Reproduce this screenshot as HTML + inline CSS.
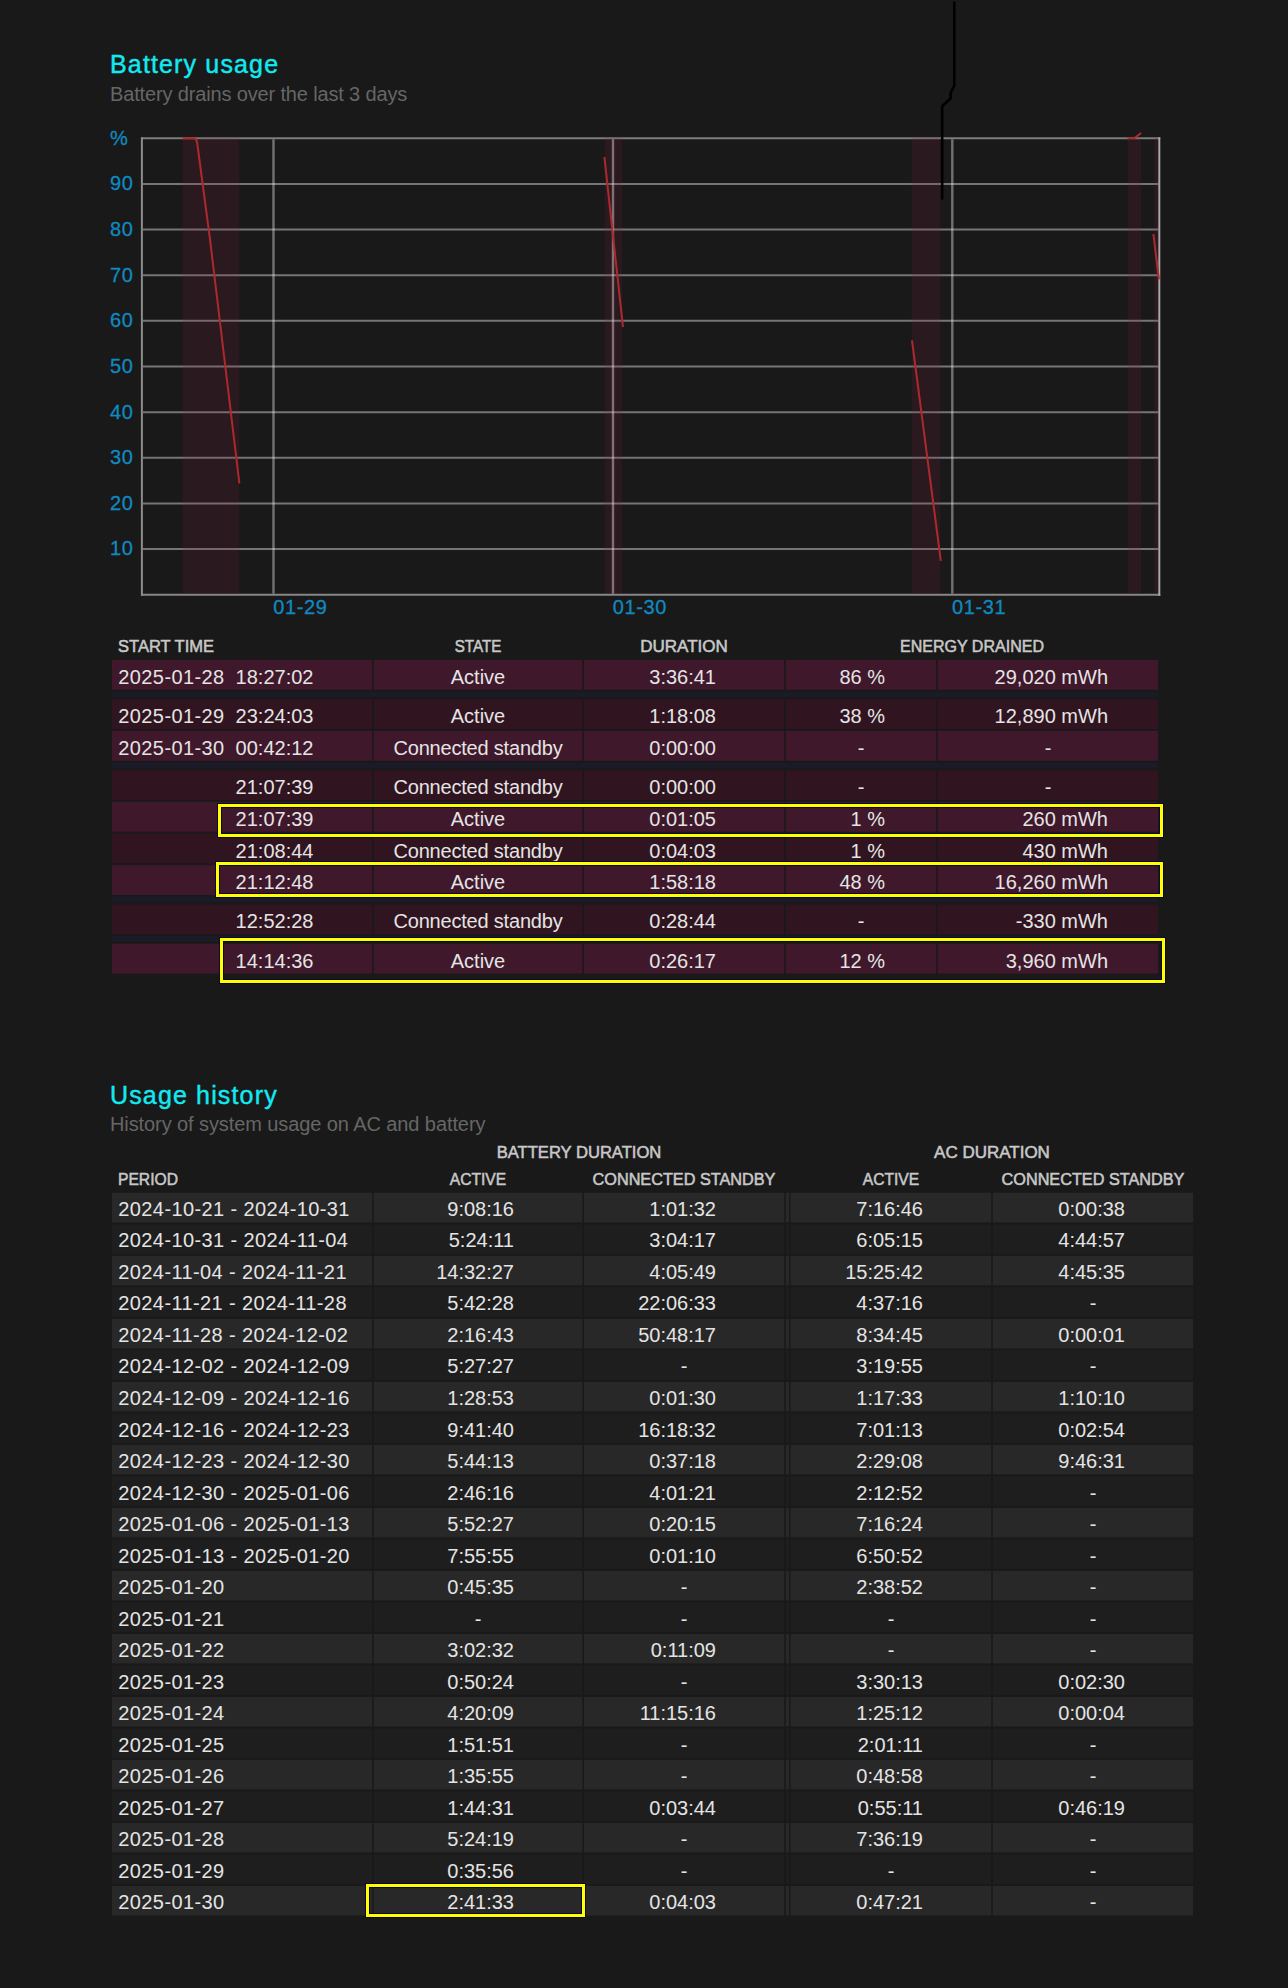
<!DOCTYPE html>
<html><head><meta charset="utf-8"><title>Battery report</title>
<style>
html,body{margin:0;padding:0;}
body{width:1288px;height:1988px;background:#191919;position:relative;overflow:hidden;font-family:"Liberation Sans", Arial, sans-serif;}
.t{position:absolute;white-space:pre;}
.h2{letter-spacing:1.15px;-webkit-text-stroke:0.4px currentColor;}
.sub{letter-spacing:-0.15px;}
.sub2{letter-spacing:-0.09px;}
.th{-webkit-text-stroke:0.55px currentColor;}
.td{letter-spacing:0;}
.dt{letter-spacing:0.4px;}
.cs{letter-spacing:-0.2px;}
.ax{letter-spacing:0.6px;-webkit-text-stroke:0.3px currentColor;}
.yb{position:absolute;border:3px solid #ffff00;box-shadow:0 0 0 1px #0a0a26, inset 0 0 0 1px #0a0a26;}
</style></head>
<body>
<svg width="1288" height="1988" viewBox="0 0 1288 1988" style="position:absolute;left:0;top:0"><rect x="112.00" y="659.90" width="260.25" height="29.90" fill="#3f182b"/><rect x="373.75" y="659.90" width="208.70" height="29.90" fill="#3f182b"/><rect x="583.95" y="659.90" width="200.30" height="29.90" fill="#3f182b"/><rect x="785.75" y="659.90" width="150.50" height="29.90" fill="#3f182b"/><rect x="937.75" y="659.90" width="220.25" height="29.90" fill="#3f182b"/><rect x="112.00" y="691.40" width="1046.00" height="6.20" fill="#1b1a27"/><rect x="112.00" y="699.20" width="260.25" height="29.90" fill="#30141f"/><rect x="373.75" y="699.20" width="208.70" height="29.90" fill="#30141f"/><rect x="583.95" y="699.20" width="200.30" height="29.90" fill="#30141f"/><rect x="785.75" y="699.20" width="150.50" height="29.90" fill="#30141f"/><rect x="937.75" y="699.20" width="220.25" height="29.90" fill="#30141f"/><rect x="112.00" y="730.85" width="260.25" height="29.90" fill="#3f182b"/><rect x="373.75" y="730.85" width="208.70" height="29.90" fill="#3f182b"/><rect x="583.95" y="730.85" width="200.30" height="29.90" fill="#3f182b"/><rect x="785.75" y="730.85" width="150.50" height="29.90" fill="#3f182b"/><rect x="937.75" y="730.85" width="220.25" height="29.90" fill="#3f182b"/><rect x="112.00" y="762.35" width="1046.00" height="6.20" fill="#1b1a27"/><rect x="112.00" y="770.15" width="260.25" height="29.90" fill="#30141f"/><rect x="373.75" y="770.15" width="208.70" height="29.90" fill="#30141f"/><rect x="583.95" y="770.15" width="200.30" height="29.90" fill="#30141f"/><rect x="785.75" y="770.15" width="150.50" height="29.90" fill="#30141f"/><rect x="937.75" y="770.15" width="220.25" height="29.90" fill="#30141f"/><rect x="112.00" y="801.80" width="260.25" height="29.90" fill="#3f182b"/><rect x="373.75" y="801.80" width="208.70" height="29.90" fill="#3f182b"/><rect x="583.95" y="801.80" width="200.30" height="29.90" fill="#3f182b"/><rect x="785.75" y="801.80" width="150.50" height="29.90" fill="#3f182b"/><rect x="937.75" y="801.80" width="220.25" height="29.90" fill="#3f182b"/><rect x="112.00" y="833.45" width="260.25" height="29.90" fill="#30141f"/><rect x="373.75" y="833.45" width="208.70" height="29.90" fill="#30141f"/><rect x="583.95" y="833.45" width="200.30" height="29.90" fill="#30141f"/><rect x="785.75" y="833.45" width="150.50" height="29.90" fill="#30141f"/><rect x="937.75" y="833.45" width="220.25" height="29.90" fill="#30141f"/><rect x="112.00" y="865.10" width="260.25" height="29.90" fill="#3f182b"/><rect x="373.75" y="865.10" width="208.70" height="29.90" fill="#3f182b"/><rect x="583.95" y="865.10" width="200.30" height="29.90" fill="#3f182b"/><rect x="785.75" y="865.10" width="150.50" height="29.90" fill="#3f182b"/><rect x="937.75" y="865.10" width="220.25" height="29.90" fill="#3f182b"/><rect x="112.00" y="896.60" width="1046.00" height="6.20" fill="#1b1a27"/><rect x="112.00" y="904.40" width="260.25" height="29.90" fill="#30141f"/><rect x="373.75" y="904.40" width="208.70" height="29.90" fill="#30141f"/><rect x="583.95" y="904.40" width="200.30" height="29.90" fill="#30141f"/><rect x="785.75" y="904.40" width="150.50" height="29.90" fill="#30141f"/><rect x="937.75" y="904.40" width="220.25" height="29.90" fill="#30141f"/><rect x="112.00" y="935.90" width="1046.00" height="6.20" fill="#1b1a27"/><rect x="112.00" y="943.70" width="260.25" height="29.90" fill="#3f182b"/><rect x="373.75" y="943.70" width="208.70" height="29.90" fill="#3f182b"/><rect x="583.95" y="943.70" width="200.30" height="29.90" fill="#3f182b"/><rect x="785.75" y="943.70" width="150.50" height="29.90" fill="#3f182b"/><rect x="937.75" y="943.70" width="220.25" height="29.90" fill="#3f182b"/><rect x="112.00" y="1192.80" width="260.25" height="29.60" fill="#282828"/><rect x="373.75" y="1192.80" width="208.70" height="29.60" fill="#282828"/><rect x="583.95" y="1192.80" width="200.30" height="29.60" fill="#282828"/><rect x="785.75" y="1192.80" width="3.40" height="29.60" fill="#282828"/><rect x="790.65" y="1192.80" width="200.60" height="29.60" fill="#282828"/><rect x="992.75" y="1192.80" width="200.35" height="29.60" fill="#282828"/><rect x="112.00" y="1224.31" width="260.25" height="29.60" fill="#1e1e1e"/><rect x="373.75" y="1224.31" width="208.70" height="29.60" fill="#1e1e1e"/><rect x="583.95" y="1224.31" width="200.30" height="29.60" fill="#1e1e1e"/><rect x="785.75" y="1224.31" width="3.40" height="29.60" fill="#1e1e1e"/><rect x="790.65" y="1224.31" width="200.60" height="29.60" fill="#1e1e1e"/><rect x="992.75" y="1224.31" width="200.35" height="29.60" fill="#1e1e1e"/><rect x="112.00" y="1255.81" width="260.25" height="29.60" fill="#282828"/><rect x="373.75" y="1255.81" width="208.70" height="29.60" fill="#282828"/><rect x="583.95" y="1255.81" width="200.30" height="29.60" fill="#282828"/><rect x="785.75" y="1255.81" width="3.40" height="29.60" fill="#282828"/><rect x="790.65" y="1255.81" width="200.60" height="29.60" fill="#282828"/><rect x="992.75" y="1255.81" width="200.35" height="29.60" fill="#282828"/><rect x="112.00" y="1287.32" width="260.25" height="29.60" fill="#1e1e1e"/><rect x="373.75" y="1287.32" width="208.70" height="29.60" fill="#1e1e1e"/><rect x="583.95" y="1287.32" width="200.30" height="29.60" fill="#1e1e1e"/><rect x="785.75" y="1287.32" width="3.40" height="29.60" fill="#1e1e1e"/><rect x="790.65" y="1287.32" width="200.60" height="29.60" fill="#1e1e1e"/><rect x="992.75" y="1287.32" width="200.35" height="29.60" fill="#1e1e1e"/><rect x="112.00" y="1318.82" width="260.25" height="29.60" fill="#282828"/><rect x="373.75" y="1318.82" width="208.70" height="29.60" fill="#282828"/><rect x="583.95" y="1318.82" width="200.30" height="29.60" fill="#282828"/><rect x="785.75" y="1318.82" width="3.40" height="29.60" fill="#282828"/><rect x="790.65" y="1318.82" width="200.60" height="29.60" fill="#282828"/><rect x="992.75" y="1318.82" width="200.35" height="29.60" fill="#282828"/><rect x="112.00" y="1350.33" width="260.25" height="29.60" fill="#1e1e1e"/><rect x="373.75" y="1350.33" width="208.70" height="29.60" fill="#1e1e1e"/><rect x="583.95" y="1350.33" width="200.30" height="29.60" fill="#1e1e1e"/><rect x="785.75" y="1350.33" width="3.40" height="29.60" fill="#1e1e1e"/><rect x="790.65" y="1350.33" width="200.60" height="29.60" fill="#1e1e1e"/><rect x="992.75" y="1350.33" width="200.35" height="29.60" fill="#1e1e1e"/><rect x="112.00" y="1381.83" width="260.25" height="29.60" fill="#282828"/><rect x="373.75" y="1381.83" width="208.70" height="29.60" fill="#282828"/><rect x="583.95" y="1381.83" width="200.30" height="29.60" fill="#282828"/><rect x="785.75" y="1381.83" width="3.40" height="29.60" fill="#282828"/><rect x="790.65" y="1381.83" width="200.60" height="29.60" fill="#282828"/><rect x="992.75" y="1381.83" width="200.35" height="29.60" fill="#282828"/><rect x="112.00" y="1413.34" width="260.25" height="29.60" fill="#1e1e1e"/><rect x="373.75" y="1413.34" width="208.70" height="29.60" fill="#1e1e1e"/><rect x="583.95" y="1413.34" width="200.30" height="29.60" fill="#1e1e1e"/><rect x="785.75" y="1413.34" width="3.40" height="29.60" fill="#1e1e1e"/><rect x="790.65" y="1413.34" width="200.60" height="29.60" fill="#1e1e1e"/><rect x="992.75" y="1413.34" width="200.35" height="29.60" fill="#1e1e1e"/><rect x="112.00" y="1444.84" width="260.25" height="29.60" fill="#282828"/><rect x="373.75" y="1444.84" width="208.70" height="29.60" fill="#282828"/><rect x="583.95" y="1444.84" width="200.30" height="29.60" fill="#282828"/><rect x="785.75" y="1444.84" width="3.40" height="29.60" fill="#282828"/><rect x="790.65" y="1444.84" width="200.60" height="29.60" fill="#282828"/><rect x="992.75" y="1444.84" width="200.35" height="29.60" fill="#282828"/><rect x="112.00" y="1476.35" width="260.25" height="29.60" fill="#1e1e1e"/><rect x="373.75" y="1476.35" width="208.70" height="29.60" fill="#1e1e1e"/><rect x="583.95" y="1476.35" width="200.30" height="29.60" fill="#1e1e1e"/><rect x="785.75" y="1476.35" width="3.40" height="29.60" fill="#1e1e1e"/><rect x="790.65" y="1476.35" width="200.60" height="29.60" fill="#1e1e1e"/><rect x="992.75" y="1476.35" width="200.35" height="29.60" fill="#1e1e1e"/><rect x="112.00" y="1507.85" width="260.25" height="29.60" fill="#282828"/><rect x="373.75" y="1507.85" width="208.70" height="29.60" fill="#282828"/><rect x="583.95" y="1507.85" width="200.30" height="29.60" fill="#282828"/><rect x="785.75" y="1507.85" width="3.40" height="29.60" fill="#282828"/><rect x="790.65" y="1507.85" width="200.60" height="29.60" fill="#282828"/><rect x="992.75" y="1507.85" width="200.35" height="29.60" fill="#282828"/><rect x="112.00" y="1539.36" width="260.25" height="29.60" fill="#1e1e1e"/><rect x="373.75" y="1539.36" width="208.70" height="29.60" fill="#1e1e1e"/><rect x="583.95" y="1539.36" width="200.30" height="29.60" fill="#1e1e1e"/><rect x="785.75" y="1539.36" width="3.40" height="29.60" fill="#1e1e1e"/><rect x="790.65" y="1539.36" width="200.60" height="29.60" fill="#1e1e1e"/><rect x="992.75" y="1539.36" width="200.35" height="29.60" fill="#1e1e1e"/><rect x="112.00" y="1570.86" width="260.25" height="29.60" fill="#282828"/><rect x="373.75" y="1570.86" width="208.70" height="29.60" fill="#282828"/><rect x="583.95" y="1570.86" width="200.30" height="29.60" fill="#282828"/><rect x="785.75" y="1570.86" width="3.40" height="29.60" fill="#282828"/><rect x="790.65" y="1570.86" width="200.60" height="29.60" fill="#282828"/><rect x="992.75" y="1570.86" width="200.35" height="29.60" fill="#282828"/><rect x="112.00" y="1602.37" width="260.25" height="29.60" fill="#1e1e1e"/><rect x="373.75" y="1602.37" width="208.70" height="29.60" fill="#1e1e1e"/><rect x="583.95" y="1602.37" width="200.30" height="29.60" fill="#1e1e1e"/><rect x="785.75" y="1602.37" width="3.40" height="29.60" fill="#1e1e1e"/><rect x="790.65" y="1602.37" width="200.60" height="29.60" fill="#1e1e1e"/><rect x="992.75" y="1602.37" width="200.35" height="29.60" fill="#1e1e1e"/><rect x="112.00" y="1633.87" width="260.25" height="29.60" fill="#282828"/><rect x="373.75" y="1633.87" width="208.70" height="29.60" fill="#282828"/><rect x="583.95" y="1633.87" width="200.30" height="29.60" fill="#282828"/><rect x="785.75" y="1633.87" width="3.40" height="29.60" fill="#282828"/><rect x="790.65" y="1633.87" width="200.60" height="29.60" fill="#282828"/><rect x="992.75" y="1633.87" width="200.35" height="29.60" fill="#282828"/><rect x="112.00" y="1665.38" width="260.25" height="29.60" fill="#1e1e1e"/><rect x="373.75" y="1665.38" width="208.70" height="29.60" fill="#1e1e1e"/><rect x="583.95" y="1665.38" width="200.30" height="29.60" fill="#1e1e1e"/><rect x="785.75" y="1665.38" width="3.40" height="29.60" fill="#1e1e1e"/><rect x="790.65" y="1665.38" width="200.60" height="29.60" fill="#1e1e1e"/><rect x="992.75" y="1665.38" width="200.35" height="29.60" fill="#1e1e1e"/><rect x="112.00" y="1696.88" width="260.25" height="29.60" fill="#282828"/><rect x="373.75" y="1696.88" width="208.70" height="29.60" fill="#282828"/><rect x="583.95" y="1696.88" width="200.30" height="29.60" fill="#282828"/><rect x="785.75" y="1696.88" width="3.40" height="29.60" fill="#282828"/><rect x="790.65" y="1696.88" width="200.60" height="29.60" fill="#282828"/><rect x="992.75" y="1696.88" width="200.35" height="29.60" fill="#282828"/><rect x="112.00" y="1728.38" width="260.25" height="29.60" fill="#1e1e1e"/><rect x="373.75" y="1728.38" width="208.70" height="29.60" fill="#1e1e1e"/><rect x="583.95" y="1728.38" width="200.30" height="29.60" fill="#1e1e1e"/><rect x="785.75" y="1728.38" width="3.40" height="29.60" fill="#1e1e1e"/><rect x="790.65" y="1728.38" width="200.60" height="29.60" fill="#1e1e1e"/><rect x="992.75" y="1728.38" width="200.35" height="29.60" fill="#1e1e1e"/><rect x="112.00" y="1759.89" width="260.25" height="29.60" fill="#282828"/><rect x="373.75" y="1759.89" width="208.70" height="29.60" fill="#282828"/><rect x="583.95" y="1759.89" width="200.30" height="29.60" fill="#282828"/><rect x="785.75" y="1759.89" width="3.40" height="29.60" fill="#282828"/><rect x="790.65" y="1759.89" width="200.60" height="29.60" fill="#282828"/><rect x="992.75" y="1759.89" width="200.35" height="29.60" fill="#282828"/><rect x="112.00" y="1791.39" width="260.25" height="29.60" fill="#1e1e1e"/><rect x="373.75" y="1791.39" width="208.70" height="29.60" fill="#1e1e1e"/><rect x="583.95" y="1791.39" width="200.30" height="29.60" fill="#1e1e1e"/><rect x="785.75" y="1791.39" width="3.40" height="29.60" fill="#1e1e1e"/><rect x="790.65" y="1791.39" width="200.60" height="29.60" fill="#1e1e1e"/><rect x="992.75" y="1791.39" width="200.35" height="29.60" fill="#1e1e1e"/><rect x="112.00" y="1822.90" width="260.25" height="29.60" fill="#282828"/><rect x="373.75" y="1822.90" width="208.70" height="29.60" fill="#282828"/><rect x="583.95" y="1822.90" width="200.30" height="29.60" fill="#282828"/><rect x="785.75" y="1822.90" width="3.40" height="29.60" fill="#282828"/><rect x="790.65" y="1822.90" width="200.60" height="29.60" fill="#282828"/><rect x="992.75" y="1822.90" width="200.35" height="29.60" fill="#282828"/><rect x="112.00" y="1854.40" width="260.25" height="29.60" fill="#1e1e1e"/><rect x="373.75" y="1854.40" width="208.70" height="29.60" fill="#1e1e1e"/><rect x="583.95" y="1854.40" width="200.30" height="29.60" fill="#1e1e1e"/><rect x="785.75" y="1854.40" width="3.40" height="29.60" fill="#1e1e1e"/><rect x="790.65" y="1854.40" width="200.60" height="29.60" fill="#1e1e1e"/><rect x="992.75" y="1854.40" width="200.35" height="29.60" fill="#1e1e1e"/><rect x="112.00" y="1885.91" width="260.25" height="29.60" fill="#282828"/><rect x="373.75" y="1885.91" width="208.70" height="29.60" fill="#282828"/><rect x="583.95" y="1885.91" width="200.30" height="29.60" fill="#282828"/><rect x="785.75" y="1885.91" width="3.40" height="29.60" fill="#282828"/><rect x="790.65" y="1885.91" width="200.60" height="29.60" fill="#282828"/><rect x="992.75" y="1885.91" width="200.35" height="29.60" fill="#282828"/></svg>
<div class="t h2" style="left:110.00px;top:52.34px;font-size:25px;line-height:25px;color:#11eaf3;">Battery usage</div>
<div class="t sub" style="left:110.00px;top:83.97px;font-size:20px;line-height:20px;color:#666666;">Battery drains over the last 3 days</div>
<svg class="chart" width="1288" height="640" viewBox="0 0 1288 640" style="position:absolute;left:0;top:0"><line x1="143" y1="549.06" x2="1158.3" y2="549.06" stroke="rgba(255,255,255,0.40)" stroke-width="2"/><line x1="143" y1="503.42" x2="1158.3" y2="503.42" stroke="rgba(255,255,255,0.40)" stroke-width="2"/><line x1="143" y1="457.78" x2="1158.3" y2="457.78" stroke="rgba(255,255,255,0.40)" stroke-width="2"/><line x1="143" y1="412.14" x2="1158.3" y2="412.14" stroke="rgba(255,255,255,0.40)" stroke-width="2"/><line x1="143" y1="366.50" x2="1158.3" y2="366.50" stroke="rgba(255,255,255,0.40)" stroke-width="2"/><line x1="143" y1="320.86" x2="1158.3" y2="320.86" stroke="rgba(255,255,255,0.40)" stroke-width="2"/><line x1="143" y1="275.22" x2="1158.3" y2="275.22" stroke="rgba(255,255,255,0.40)" stroke-width="2"/><line x1="143" y1="229.58" x2="1158.3" y2="229.58" stroke="rgba(255,255,255,0.40)" stroke-width="2"/><line x1="143" y1="183.94" x2="1158.3" y2="183.94" stroke="rgba(255,255,255,0.40)" stroke-width="2"/><line x1="273.5" y1="139.3" x2="273.5" y2="593.7" stroke="rgba(255,242,242,0.40)" stroke-width="2.4"/><line x1="952.3" y1="139.3" x2="952.3" y2="593.7" stroke="rgba(255,242,242,0.40)" stroke-width="2.4"/><line x1="141" y1="138.3" x2="1160.3" y2="138.3" stroke="#7d7d7d" stroke-width="2"/><line x1="141" y1="594.7" x2="1160.3" y2="594.7" stroke="#878787" stroke-width="2"/><line x1="141.9" y1="137.3" x2="141.9" y2="595.7" stroke="#8c8c8d" stroke-width="2"/><line x1="1159.3" y1="137.3" x2="1159.3" y2="595.7" stroke="#a9a8ab" stroke-width="2"/><rect x="182.7" y="137.8" width="56.60" height="455.90000000000003" fill="rgba(150,25,75,0.15)"/><rect x="604.6" y="137.8" width="17.60" height="455.90000000000003" fill="rgba(150,25,75,0.15)"/><rect x="911.7" y="137.8" width="28.70" height="455.90000000000003" fill="rgba(150,25,75,0.15)"/><rect x="1127.6" y="137.8" width="13.60" height="455.90000000000003" fill="rgba(150,25,75,0.15)"/><rect x="1154.3" y="137.8" width="4.10" height="455.90000000000003" fill="rgba(150,25,75,0.15)"/><line x1="613.0" y1="139.3" x2="613.0" y2="593.7" stroke="rgba(255,242,242,0.40)" stroke-width="2.4"/><path d="M182.7,138.3 L194.5,138.3 Q196.5,139 197.2,143 L210.1,240 L239.4,483.5" fill="none" stroke="#ad2a2b" stroke-width="2"/><path d="M604.4,157 L623,327" fill="none" stroke="#ad2a2b" stroke-width="2"/><path d="M912,340.4 L940.8,560.9" fill="none" stroke="#ad2a2b" stroke-width="2"/><path d="M1127.6,138.3 L1134.4,138 L1141.2,133" fill="none" stroke="#ad2a2b" stroke-width="2"/><path d="M1153.4,234 L1158.9,279.3" fill="none" stroke="#ad2a2b" stroke-width="2"/><path d="M954.3,2.5 L954.3,85.6 L950.6,93 L950.6,98.2 L942.2,106.2 L942.2,198.6" fill="none" stroke="#000" stroke-width="2.6" stroke-linejoin="round" stroke-linecap="round"/></svg>
<div class="t ax" style="left:110.00px;top:128.07px;font-size:20px;line-height:20px;color:#1089c0;">%</div>
<div class="t ax" style="left:110.00px;top:173.31px;font-size:20px;line-height:20px;color:#1089c0;">90</div>
<div class="t ax" style="left:110.00px;top:218.95px;font-size:20px;line-height:20px;color:#1089c0;">80</div>
<div class="t ax" style="left:110.00px;top:264.59px;font-size:20px;line-height:20px;color:#1089c0;">70</div>
<div class="t ax" style="left:110.00px;top:310.23px;font-size:20px;line-height:20px;color:#1089c0;">60</div>
<div class="t ax" style="left:110.00px;top:355.87px;font-size:20px;line-height:20px;color:#1089c0;">50</div>
<div class="t ax" style="left:110.00px;top:401.51px;font-size:20px;line-height:20px;color:#1089c0;">40</div>
<div class="t ax" style="left:110.00px;top:447.15px;font-size:20px;line-height:20px;color:#1089c0;">30</div>
<div class="t ax" style="left:110.00px;top:492.79px;font-size:20px;line-height:20px;color:#1089c0;">20</div>
<div class="t ax" style="left:110.00px;top:538.43px;font-size:20px;line-height:20px;color:#1089c0;">10</div>
<div class="t ax" style="left:273.30px;top:597.27px;font-size:20px;line-height:20px;color:#1089c0;">01-29</div>
<div class="t ax" style="left:612.80px;top:597.27px;font-size:20px;line-height:20px;color:#1089c0;">01-30</div>
<div class="t ax" style="left:952.10px;top:597.27px;font-size:20px;line-height:20px;color:#1089c0;">01-31</div>
<div class="t th" style="left:117.50px;top:638.34px;font-size:17.2px;line-height:17.2px;color:#c8c8c8;transform:scaleX(0.961);transform-origin:left 50%;">START TIME</div>
<div class="t th" style="left:374.00px;top:638.34px;font-size:17.2px;line-height:17.2px;color:#c8c8c8;width:208.00px;text-align:center;transform:scaleX(0.883);transform-origin:center 50%;">STATE</div>
<div class="t th" style="left:584.00px;top:638.34px;font-size:17.2px;line-height:17.2px;color:#c8c8c8;width:200.00px;text-align:center;transform:scaleX(0.990);transform-origin:center 50%;">DURATION</div>
<div class="t th" style="left:786.00px;top:638.34px;font-size:17.2px;line-height:17.2px;color:#c8c8c8;width:372.00px;text-align:center;transform:scaleX(0.932);transform-origin:center 50%;">ENERGY DRAINED</div>
<div class="t td dt" style="left:118.30px;top:666.97px;font-size:20px;line-height:20px;color:#e4e4e4;">2025-01-28</div>
<div class="t td" style="left:235.60px;top:666.97px;font-size:20px;line-height:20px;color:#e4e4e4;">18:27:02</div>
<div class="t td" style="left:374.00px;top:666.97px;font-size:20px;line-height:20px;color:#e4e4e4;width:208.00px;text-align:center;">Active</div>
<div class="t td" style="left:584.00px;top:666.97px;font-size:20px;line-height:20px;color:#e4e4e4;width:132.00px;text-align:right;">3:36:41</div>
<div class="t td" style="left:786.00px;top:666.97px;font-size:20px;line-height:20px;color:#e4e4e4;width:99.00px;text-align:right;">86 %</div>
<div class="t td" style="left:938.00px;top:666.97px;font-size:20px;line-height:20px;color:#e4e4e4;width:170.00px;text-align:right;">29,020 mWh</div>
<div class="t td dt" style="left:118.30px;top:706.27px;font-size:20px;line-height:20px;color:#e4e4e4;">2025-01-29</div>
<div class="t td" style="left:235.60px;top:706.27px;font-size:20px;line-height:20px;color:#e4e4e4;">23:24:03</div>
<div class="t td" style="left:374.00px;top:706.27px;font-size:20px;line-height:20px;color:#e4e4e4;width:208.00px;text-align:center;">Active</div>
<div class="t td" style="left:584.00px;top:706.27px;font-size:20px;line-height:20px;color:#e4e4e4;width:132.00px;text-align:right;">1:18:08</div>
<div class="t td" style="left:786.00px;top:706.27px;font-size:20px;line-height:20px;color:#e4e4e4;width:99.00px;text-align:right;">38 %</div>
<div class="t td" style="left:938.00px;top:706.27px;font-size:20px;line-height:20px;color:#e4e4e4;width:170.00px;text-align:right;">12,890 mWh</div>
<div class="t td dt" style="left:118.30px;top:737.92px;font-size:20px;line-height:20px;color:#e4e4e4;">2025-01-30</div>
<div class="t td" style="left:235.60px;top:737.92px;font-size:20px;line-height:20px;color:#e4e4e4;">00:42:12</div>
<div class="t td cs" style="left:374.00px;top:737.92px;font-size:20px;line-height:20px;color:#e4e4e4;width:208.00px;text-align:center;">Connected standby</div>
<div class="t td" style="left:584.00px;top:737.92px;font-size:20px;line-height:20px;color:#e4e4e4;width:132.00px;text-align:right;">0:00:00</div>
<div class="t td" style="left:786.00px;top:737.92px;font-size:20px;line-height:20px;color:#e4e4e4;width:150.00px;text-align:center;">-</div>
<div class="t td" style="left:938.00px;top:737.92px;font-size:20px;line-height:20px;color:#e4e4e4;width:220.00px;text-align:center;">-</div>
<div class="t td" style="left:235.60px;top:777.22px;font-size:20px;line-height:20px;color:#e4e4e4;">21:07:39</div>
<div class="t td cs" style="left:374.00px;top:777.22px;font-size:20px;line-height:20px;color:#e4e4e4;width:208.00px;text-align:center;">Connected standby</div>
<div class="t td" style="left:584.00px;top:777.22px;font-size:20px;line-height:20px;color:#e4e4e4;width:132.00px;text-align:right;">0:00:00</div>
<div class="t td" style="left:786.00px;top:777.22px;font-size:20px;line-height:20px;color:#e4e4e4;width:150.00px;text-align:center;">-</div>
<div class="t td" style="left:938.00px;top:777.22px;font-size:20px;line-height:20px;color:#e4e4e4;width:220.00px;text-align:center;">-</div>
<div class="t td" style="left:235.60px;top:808.87px;font-size:20px;line-height:20px;color:#e4e4e4;">21:07:39</div>
<div class="t td" style="left:374.00px;top:808.87px;font-size:20px;line-height:20px;color:#e4e4e4;width:208.00px;text-align:center;">Active</div>
<div class="t td" style="left:584.00px;top:808.87px;font-size:20px;line-height:20px;color:#e4e4e4;width:132.00px;text-align:right;">0:01:05</div>
<div class="t td" style="left:786.00px;top:808.87px;font-size:20px;line-height:20px;color:#e4e4e4;width:99.00px;text-align:right;">1 %</div>
<div class="t td" style="left:938.00px;top:808.87px;font-size:20px;line-height:20px;color:#e4e4e4;width:170.00px;text-align:right;">260 mWh</div>
<div class="t td" style="left:235.60px;top:840.52px;font-size:20px;line-height:20px;color:#e4e4e4;">21:08:44</div>
<div class="t td cs" style="left:374.00px;top:840.52px;font-size:20px;line-height:20px;color:#e4e4e4;width:208.00px;text-align:center;">Connected standby</div>
<div class="t td" style="left:584.00px;top:840.52px;font-size:20px;line-height:20px;color:#e4e4e4;width:132.00px;text-align:right;">0:04:03</div>
<div class="t td" style="left:786.00px;top:840.52px;font-size:20px;line-height:20px;color:#e4e4e4;width:99.00px;text-align:right;">1 %</div>
<div class="t td" style="left:938.00px;top:840.52px;font-size:20px;line-height:20px;color:#e4e4e4;width:170.00px;text-align:right;">430 mWh</div>
<div class="t td" style="left:235.60px;top:872.17px;font-size:20px;line-height:20px;color:#e4e4e4;">21:12:48</div>
<div class="t td" style="left:374.00px;top:872.17px;font-size:20px;line-height:20px;color:#e4e4e4;width:208.00px;text-align:center;">Active</div>
<div class="t td" style="left:584.00px;top:872.17px;font-size:20px;line-height:20px;color:#e4e4e4;width:132.00px;text-align:right;">1:58:18</div>
<div class="t td" style="left:786.00px;top:872.17px;font-size:20px;line-height:20px;color:#e4e4e4;width:99.00px;text-align:right;">48 %</div>
<div class="t td" style="left:938.00px;top:872.17px;font-size:20px;line-height:20px;color:#e4e4e4;width:170.00px;text-align:right;">16,260 mWh</div>
<div class="t td" style="left:235.60px;top:911.47px;font-size:20px;line-height:20px;color:#e4e4e4;">12:52:28</div>
<div class="t td cs" style="left:374.00px;top:911.47px;font-size:20px;line-height:20px;color:#e4e4e4;width:208.00px;text-align:center;">Connected standby</div>
<div class="t td" style="left:584.00px;top:911.47px;font-size:20px;line-height:20px;color:#e4e4e4;width:132.00px;text-align:right;">0:28:44</div>
<div class="t td" style="left:786.00px;top:911.47px;font-size:20px;line-height:20px;color:#e4e4e4;width:150.00px;text-align:center;">-</div>
<div class="t td" style="left:938.00px;top:911.47px;font-size:20px;line-height:20px;color:#e4e4e4;width:170.00px;text-align:right;">-330 mWh</div>
<div class="t td" style="left:235.60px;top:950.77px;font-size:20px;line-height:20px;color:#e4e4e4;">14:14:36</div>
<div class="t td" style="left:374.00px;top:950.77px;font-size:20px;line-height:20px;color:#e4e4e4;width:208.00px;text-align:center;">Active</div>
<div class="t td" style="left:584.00px;top:950.77px;font-size:20px;line-height:20px;color:#e4e4e4;width:132.00px;text-align:right;">0:26:17</div>
<div class="t td" style="left:786.00px;top:950.77px;font-size:20px;line-height:20px;color:#e4e4e4;width:99.00px;text-align:right;">12 %</div>
<div class="t td" style="left:938.00px;top:950.77px;font-size:20px;line-height:20px;color:#e4e4e4;width:170.00px;text-align:right;">3,960 mWh</div>
<div class="t h2" style="left:110.00px;top:1083.04px;font-size:25px;line-height:25px;color:#11eaf3;">Usage history</div>
<div class="t sub2" style="left:110.00px;top:1113.97px;font-size:20px;line-height:20px;color:#666666;">History of system usage on AC and battery</div>
<div class="t th" style="left:374.00px;top:1144.34px;font-size:17.2px;line-height:17.2px;color:#c8c8c8;width:410.00px;text-align:center;transform:scaleX(0.965);transform-origin:center 50%;">BATTERY DURATION</div>
<div class="t th" style="left:791.00px;top:1144.34px;font-size:17.2px;line-height:17.2px;color:#c8c8c8;width:402.00px;text-align:center;transform:scaleX(0.988);transform-origin:center 50%;">AC DURATION</div>
<div class="t th" style="left:117.50px;top:1171.14px;font-size:17.2px;line-height:17.2px;color:#c8c8c8;transform:scaleX(0.910);transform-origin:left 50%;">PERIOD</div>
<div class="t th" style="left:374.00px;top:1171.14px;font-size:17.2px;line-height:17.2px;color:#c8c8c8;width:208.00px;text-align:center;transform:scaleX(0.908);transform-origin:center 50%;">ACTIVE</div>
<div class="t th" style="left:584.00px;top:1171.14px;font-size:17.2px;line-height:17.2px;color:#c8c8c8;width:200.00px;text-align:center;transform:scaleX(0.945);transform-origin:center 50%;">CONNECTED STANDBY</div>
<div class="t th" style="left:791.00px;top:1171.14px;font-size:17.2px;line-height:17.2px;color:#c8c8c8;width:200.00px;text-align:center;transform:scaleX(0.908);transform-origin:center 50%;">ACTIVE</div>
<div class="t th" style="left:993.00px;top:1171.14px;font-size:17.2px;line-height:17.2px;color:#c8c8c8;width:200.00px;text-align:center;transform:scaleX(0.945);transform-origin:center 50%;">CONNECTED STANDBY</div>
<div class="t td dt" style="left:118.30px;top:1198.97px;font-size:20px;line-height:20px;color:#e4e4e4;">2024-10-21 - 2024-10-31</div>
<div class="t td" style="left:374.00px;top:1198.97px;font-size:20px;line-height:20px;color:#e4e4e4;width:140.00px;text-align:right;">9:08:16</div>
<div class="t td" style="left:584.00px;top:1198.97px;font-size:20px;line-height:20px;color:#e4e4e4;width:132.00px;text-align:right;">1:01:32</div>
<div class="t td" style="left:791.00px;top:1198.97px;font-size:20px;line-height:20px;color:#e4e4e4;width:132.00px;text-align:right;">7:16:46</div>
<div class="t td" style="left:993.00px;top:1198.97px;font-size:20px;line-height:20px;color:#e4e4e4;width:132.00px;text-align:right;">0:00:38</div>
<div class="t td dt" style="left:118.30px;top:1230.47px;font-size:20px;line-height:20px;color:#e4e4e4;">2024-10-31 - 2024-11-04</div>
<div class="t td" style="left:374.00px;top:1230.47px;font-size:20px;line-height:20px;color:#e4e4e4;width:140.00px;text-align:right;">5:24:11</div>
<div class="t td" style="left:584.00px;top:1230.47px;font-size:20px;line-height:20px;color:#e4e4e4;width:132.00px;text-align:right;">3:04:17</div>
<div class="t td" style="left:791.00px;top:1230.47px;font-size:20px;line-height:20px;color:#e4e4e4;width:132.00px;text-align:right;">6:05:15</div>
<div class="t td" style="left:993.00px;top:1230.47px;font-size:20px;line-height:20px;color:#e4e4e4;width:132.00px;text-align:right;">4:44:57</div>
<div class="t td dt" style="left:118.30px;top:1261.98px;font-size:20px;line-height:20px;color:#e4e4e4;">2024-11-04 - 2024-11-21</div>
<div class="t td" style="left:374.00px;top:1261.98px;font-size:20px;line-height:20px;color:#e4e4e4;width:140.00px;text-align:right;">14:32:27</div>
<div class="t td" style="left:584.00px;top:1261.98px;font-size:20px;line-height:20px;color:#e4e4e4;width:132.00px;text-align:right;">4:05:49</div>
<div class="t td" style="left:791.00px;top:1261.98px;font-size:20px;line-height:20px;color:#e4e4e4;width:132.00px;text-align:right;">15:25:42</div>
<div class="t td" style="left:993.00px;top:1261.98px;font-size:20px;line-height:20px;color:#e4e4e4;width:132.00px;text-align:right;">4:45:35</div>
<div class="t td dt" style="left:118.30px;top:1293.48px;font-size:20px;line-height:20px;color:#e4e4e4;">2024-11-21 - 2024-11-28</div>
<div class="t td" style="left:374.00px;top:1293.48px;font-size:20px;line-height:20px;color:#e4e4e4;width:140.00px;text-align:right;">5:42:28</div>
<div class="t td" style="left:584.00px;top:1293.48px;font-size:20px;line-height:20px;color:#e4e4e4;width:132.00px;text-align:right;">22:06:33</div>
<div class="t td" style="left:791.00px;top:1293.48px;font-size:20px;line-height:20px;color:#e4e4e4;width:132.00px;text-align:right;">4:37:16</div>
<div class="t td" style="left:993.00px;top:1293.48px;font-size:20px;line-height:20px;color:#e4e4e4;width:200.00px;text-align:center;">-</div>
<div class="t td dt" style="left:118.30px;top:1324.99px;font-size:20px;line-height:20px;color:#e4e4e4;">2024-11-28 - 2024-12-02</div>
<div class="t td" style="left:374.00px;top:1324.99px;font-size:20px;line-height:20px;color:#e4e4e4;width:140.00px;text-align:right;">2:16:43</div>
<div class="t td" style="left:584.00px;top:1324.99px;font-size:20px;line-height:20px;color:#e4e4e4;width:132.00px;text-align:right;">50:48:17</div>
<div class="t td" style="left:791.00px;top:1324.99px;font-size:20px;line-height:20px;color:#e4e4e4;width:132.00px;text-align:right;">8:34:45</div>
<div class="t td" style="left:993.00px;top:1324.99px;font-size:20px;line-height:20px;color:#e4e4e4;width:132.00px;text-align:right;">0:00:01</div>
<div class="t td dt" style="left:118.30px;top:1356.49px;font-size:20px;line-height:20px;color:#e4e4e4;">2024-12-02 - 2024-12-09</div>
<div class="t td" style="left:374.00px;top:1356.49px;font-size:20px;line-height:20px;color:#e4e4e4;width:140.00px;text-align:right;">5:27:27</div>
<div class="t td" style="left:584.00px;top:1356.49px;font-size:20px;line-height:20px;color:#e4e4e4;width:200.00px;text-align:center;">-</div>
<div class="t td" style="left:791.00px;top:1356.49px;font-size:20px;line-height:20px;color:#e4e4e4;width:132.00px;text-align:right;">3:19:55</div>
<div class="t td" style="left:993.00px;top:1356.49px;font-size:20px;line-height:20px;color:#e4e4e4;width:200.00px;text-align:center;">-</div>
<div class="t td dt" style="left:118.30px;top:1388.00px;font-size:20px;line-height:20px;color:#e4e4e4;">2024-12-09 - 2024-12-16</div>
<div class="t td" style="left:374.00px;top:1388.00px;font-size:20px;line-height:20px;color:#e4e4e4;width:140.00px;text-align:right;">1:28:53</div>
<div class="t td" style="left:584.00px;top:1388.00px;font-size:20px;line-height:20px;color:#e4e4e4;width:132.00px;text-align:right;">0:01:30</div>
<div class="t td" style="left:791.00px;top:1388.00px;font-size:20px;line-height:20px;color:#e4e4e4;width:132.00px;text-align:right;">1:17:33</div>
<div class="t td" style="left:993.00px;top:1388.00px;font-size:20px;line-height:20px;color:#e4e4e4;width:132.00px;text-align:right;">1:10:10</div>
<div class="t td dt" style="left:118.30px;top:1419.50px;font-size:20px;line-height:20px;color:#e4e4e4;">2024-12-16 - 2024-12-23</div>
<div class="t td" style="left:374.00px;top:1419.50px;font-size:20px;line-height:20px;color:#e4e4e4;width:140.00px;text-align:right;">9:41:40</div>
<div class="t td" style="left:584.00px;top:1419.50px;font-size:20px;line-height:20px;color:#e4e4e4;width:132.00px;text-align:right;">16:18:32</div>
<div class="t td" style="left:791.00px;top:1419.50px;font-size:20px;line-height:20px;color:#e4e4e4;width:132.00px;text-align:right;">7:01:13</div>
<div class="t td" style="left:993.00px;top:1419.50px;font-size:20px;line-height:20px;color:#e4e4e4;width:132.00px;text-align:right;">0:02:54</div>
<div class="t td dt" style="left:118.30px;top:1451.01px;font-size:20px;line-height:20px;color:#e4e4e4;">2024-12-23 - 2024-12-30</div>
<div class="t td" style="left:374.00px;top:1451.01px;font-size:20px;line-height:20px;color:#e4e4e4;width:140.00px;text-align:right;">5:44:13</div>
<div class="t td" style="left:584.00px;top:1451.01px;font-size:20px;line-height:20px;color:#e4e4e4;width:132.00px;text-align:right;">0:37:18</div>
<div class="t td" style="left:791.00px;top:1451.01px;font-size:20px;line-height:20px;color:#e4e4e4;width:132.00px;text-align:right;">2:29:08</div>
<div class="t td" style="left:993.00px;top:1451.01px;font-size:20px;line-height:20px;color:#e4e4e4;width:132.00px;text-align:right;">9:46:31</div>
<div class="t td dt" style="left:118.30px;top:1482.51px;font-size:20px;line-height:20px;color:#e4e4e4;">2024-12-30 - 2025-01-06</div>
<div class="t td" style="left:374.00px;top:1482.51px;font-size:20px;line-height:20px;color:#e4e4e4;width:140.00px;text-align:right;">2:46:16</div>
<div class="t td" style="left:584.00px;top:1482.51px;font-size:20px;line-height:20px;color:#e4e4e4;width:132.00px;text-align:right;">4:01:21</div>
<div class="t td" style="left:791.00px;top:1482.51px;font-size:20px;line-height:20px;color:#e4e4e4;width:132.00px;text-align:right;">2:12:52</div>
<div class="t td" style="left:993.00px;top:1482.51px;font-size:20px;line-height:20px;color:#e4e4e4;width:200.00px;text-align:center;">-</div>
<div class="t td dt" style="left:118.30px;top:1514.02px;font-size:20px;line-height:20px;color:#e4e4e4;">2025-01-06 - 2025-01-13</div>
<div class="t td" style="left:374.00px;top:1514.02px;font-size:20px;line-height:20px;color:#e4e4e4;width:140.00px;text-align:right;">5:52:27</div>
<div class="t td" style="left:584.00px;top:1514.02px;font-size:20px;line-height:20px;color:#e4e4e4;width:132.00px;text-align:right;">0:20:15</div>
<div class="t td" style="left:791.00px;top:1514.02px;font-size:20px;line-height:20px;color:#e4e4e4;width:132.00px;text-align:right;">7:16:24</div>
<div class="t td" style="left:993.00px;top:1514.02px;font-size:20px;line-height:20px;color:#e4e4e4;width:200.00px;text-align:center;">-</div>
<div class="t td dt" style="left:118.30px;top:1545.52px;font-size:20px;line-height:20px;color:#e4e4e4;">2025-01-13 - 2025-01-20</div>
<div class="t td" style="left:374.00px;top:1545.52px;font-size:20px;line-height:20px;color:#e4e4e4;width:140.00px;text-align:right;">7:55:55</div>
<div class="t td" style="left:584.00px;top:1545.52px;font-size:20px;line-height:20px;color:#e4e4e4;width:132.00px;text-align:right;">0:01:10</div>
<div class="t td" style="left:791.00px;top:1545.52px;font-size:20px;line-height:20px;color:#e4e4e4;width:132.00px;text-align:right;">6:50:52</div>
<div class="t td" style="left:993.00px;top:1545.52px;font-size:20px;line-height:20px;color:#e4e4e4;width:200.00px;text-align:center;">-</div>
<div class="t td dt" style="left:118.30px;top:1577.03px;font-size:20px;line-height:20px;color:#e4e4e4;">2025-01-20</div>
<div class="t td" style="left:374.00px;top:1577.03px;font-size:20px;line-height:20px;color:#e4e4e4;width:140.00px;text-align:right;">0:45:35</div>
<div class="t td" style="left:584.00px;top:1577.03px;font-size:20px;line-height:20px;color:#e4e4e4;width:200.00px;text-align:center;">-</div>
<div class="t td" style="left:791.00px;top:1577.03px;font-size:20px;line-height:20px;color:#e4e4e4;width:132.00px;text-align:right;">2:38:52</div>
<div class="t td" style="left:993.00px;top:1577.03px;font-size:20px;line-height:20px;color:#e4e4e4;width:200.00px;text-align:center;">-</div>
<div class="t td dt" style="left:118.30px;top:1608.53px;font-size:20px;line-height:20px;color:#e4e4e4;">2025-01-21</div>
<div class="t td" style="left:374.00px;top:1608.53px;font-size:20px;line-height:20px;color:#e4e4e4;width:208.00px;text-align:center;">-</div>
<div class="t td" style="left:584.00px;top:1608.53px;font-size:20px;line-height:20px;color:#e4e4e4;width:200.00px;text-align:center;">-</div>
<div class="t td" style="left:791.00px;top:1608.53px;font-size:20px;line-height:20px;color:#e4e4e4;width:200.00px;text-align:center;">-</div>
<div class="t td" style="left:993.00px;top:1608.53px;font-size:20px;line-height:20px;color:#e4e4e4;width:200.00px;text-align:center;">-</div>
<div class="t td dt" style="left:118.30px;top:1640.04px;font-size:20px;line-height:20px;color:#e4e4e4;">2025-01-22</div>
<div class="t td" style="left:374.00px;top:1640.04px;font-size:20px;line-height:20px;color:#e4e4e4;width:140.00px;text-align:right;">3:02:32</div>
<div class="t td" style="left:584.00px;top:1640.04px;font-size:20px;line-height:20px;color:#e4e4e4;width:132.00px;text-align:right;">0:11:09</div>
<div class="t td" style="left:791.00px;top:1640.04px;font-size:20px;line-height:20px;color:#e4e4e4;width:200.00px;text-align:center;">-</div>
<div class="t td" style="left:993.00px;top:1640.04px;font-size:20px;line-height:20px;color:#e4e4e4;width:200.00px;text-align:center;">-</div>
<div class="t td dt" style="left:118.30px;top:1671.54px;font-size:20px;line-height:20px;color:#e4e4e4;">2025-01-23</div>
<div class="t td" style="left:374.00px;top:1671.54px;font-size:20px;line-height:20px;color:#e4e4e4;width:140.00px;text-align:right;">0:50:24</div>
<div class="t td" style="left:584.00px;top:1671.54px;font-size:20px;line-height:20px;color:#e4e4e4;width:200.00px;text-align:center;">-</div>
<div class="t td" style="left:791.00px;top:1671.54px;font-size:20px;line-height:20px;color:#e4e4e4;width:132.00px;text-align:right;">3:30:13</div>
<div class="t td" style="left:993.00px;top:1671.54px;font-size:20px;line-height:20px;color:#e4e4e4;width:132.00px;text-align:right;">0:02:30</div>
<div class="t td dt" style="left:118.30px;top:1703.05px;font-size:20px;line-height:20px;color:#e4e4e4;">2025-01-24</div>
<div class="t td" style="left:374.00px;top:1703.05px;font-size:20px;line-height:20px;color:#e4e4e4;width:140.00px;text-align:right;">4:20:09</div>
<div class="t td" style="left:584.00px;top:1703.05px;font-size:20px;line-height:20px;color:#e4e4e4;width:132.00px;text-align:right;">11:15:16</div>
<div class="t td" style="left:791.00px;top:1703.05px;font-size:20px;line-height:20px;color:#e4e4e4;width:132.00px;text-align:right;">1:25:12</div>
<div class="t td" style="left:993.00px;top:1703.05px;font-size:20px;line-height:20px;color:#e4e4e4;width:132.00px;text-align:right;">0:00:04</div>
<div class="t td dt" style="left:118.30px;top:1734.55px;font-size:20px;line-height:20px;color:#e4e4e4;">2025-01-25</div>
<div class="t td" style="left:374.00px;top:1734.55px;font-size:20px;line-height:20px;color:#e4e4e4;width:140.00px;text-align:right;">1:51:51</div>
<div class="t td" style="left:584.00px;top:1734.55px;font-size:20px;line-height:20px;color:#e4e4e4;width:200.00px;text-align:center;">-</div>
<div class="t td" style="left:791.00px;top:1734.55px;font-size:20px;line-height:20px;color:#e4e4e4;width:132.00px;text-align:right;">2:01:11</div>
<div class="t td" style="left:993.00px;top:1734.55px;font-size:20px;line-height:20px;color:#e4e4e4;width:200.00px;text-align:center;">-</div>
<div class="t td dt" style="left:118.30px;top:1766.06px;font-size:20px;line-height:20px;color:#e4e4e4;">2025-01-26</div>
<div class="t td" style="left:374.00px;top:1766.06px;font-size:20px;line-height:20px;color:#e4e4e4;width:140.00px;text-align:right;">1:35:55</div>
<div class="t td" style="left:584.00px;top:1766.06px;font-size:20px;line-height:20px;color:#e4e4e4;width:200.00px;text-align:center;">-</div>
<div class="t td" style="left:791.00px;top:1766.06px;font-size:20px;line-height:20px;color:#e4e4e4;width:132.00px;text-align:right;">0:48:58</div>
<div class="t td" style="left:993.00px;top:1766.06px;font-size:20px;line-height:20px;color:#e4e4e4;width:200.00px;text-align:center;">-</div>
<div class="t td dt" style="left:118.30px;top:1797.56px;font-size:20px;line-height:20px;color:#e4e4e4;">2025-01-27</div>
<div class="t td" style="left:374.00px;top:1797.56px;font-size:20px;line-height:20px;color:#e4e4e4;width:140.00px;text-align:right;">1:44:31</div>
<div class="t td" style="left:584.00px;top:1797.56px;font-size:20px;line-height:20px;color:#e4e4e4;width:132.00px;text-align:right;">0:03:44</div>
<div class="t td" style="left:791.00px;top:1797.56px;font-size:20px;line-height:20px;color:#e4e4e4;width:132.00px;text-align:right;">0:55:11</div>
<div class="t td" style="left:993.00px;top:1797.56px;font-size:20px;line-height:20px;color:#e4e4e4;width:132.00px;text-align:right;">0:46:19</div>
<div class="t td dt" style="left:118.30px;top:1829.07px;font-size:20px;line-height:20px;color:#e4e4e4;">2025-01-28</div>
<div class="t td" style="left:374.00px;top:1829.07px;font-size:20px;line-height:20px;color:#e4e4e4;width:140.00px;text-align:right;">5:24:19</div>
<div class="t td" style="left:584.00px;top:1829.07px;font-size:20px;line-height:20px;color:#e4e4e4;width:200.00px;text-align:center;">-</div>
<div class="t td" style="left:791.00px;top:1829.07px;font-size:20px;line-height:20px;color:#e4e4e4;width:132.00px;text-align:right;">7:36:19</div>
<div class="t td" style="left:993.00px;top:1829.07px;font-size:20px;line-height:20px;color:#e4e4e4;width:200.00px;text-align:center;">-</div>
<div class="t td dt" style="left:118.30px;top:1860.57px;font-size:20px;line-height:20px;color:#e4e4e4;">2025-01-29</div>
<div class="t td" style="left:374.00px;top:1860.57px;font-size:20px;line-height:20px;color:#e4e4e4;width:140.00px;text-align:right;">0:35:56</div>
<div class="t td" style="left:584.00px;top:1860.57px;font-size:20px;line-height:20px;color:#e4e4e4;width:200.00px;text-align:center;">-</div>
<div class="t td" style="left:791.00px;top:1860.57px;font-size:20px;line-height:20px;color:#e4e4e4;width:200.00px;text-align:center;">-</div>
<div class="t td" style="left:993.00px;top:1860.57px;font-size:20px;line-height:20px;color:#e4e4e4;width:200.00px;text-align:center;">-</div>
<div class="t td dt" style="left:118.30px;top:1892.08px;font-size:20px;line-height:20px;color:#e4e4e4;">2025-01-30</div>
<div class="t td" style="left:374.00px;top:1892.08px;font-size:20px;line-height:20px;color:#e4e4e4;width:140.00px;text-align:right;">2:41:33</div>
<div class="t td" style="left:584.00px;top:1892.08px;font-size:20px;line-height:20px;color:#e4e4e4;width:132.00px;text-align:right;">0:04:03</div>
<div class="t td" style="left:791.00px;top:1892.08px;font-size:20px;line-height:20px;color:#e4e4e4;width:132.00px;text-align:right;">0:47:21</div>
<div class="t td" style="left:993.00px;top:1892.08px;font-size:20px;line-height:20px;color:#e4e4e4;width:200.00px;text-align:center;">-</div>
<div class="yb" style="left:218px;top:804px;width:939px;height:27px"></div>
<div class="yb" style="left:216px;top:862px;width:941px;height:29px"></div>
<div class="yb" style="left:220px;top:938px;width:939px;height:39px"></div>
<div class="yb" style="left:366px;top:1884px;width:213px;height:27px"></div>
</body></html>
